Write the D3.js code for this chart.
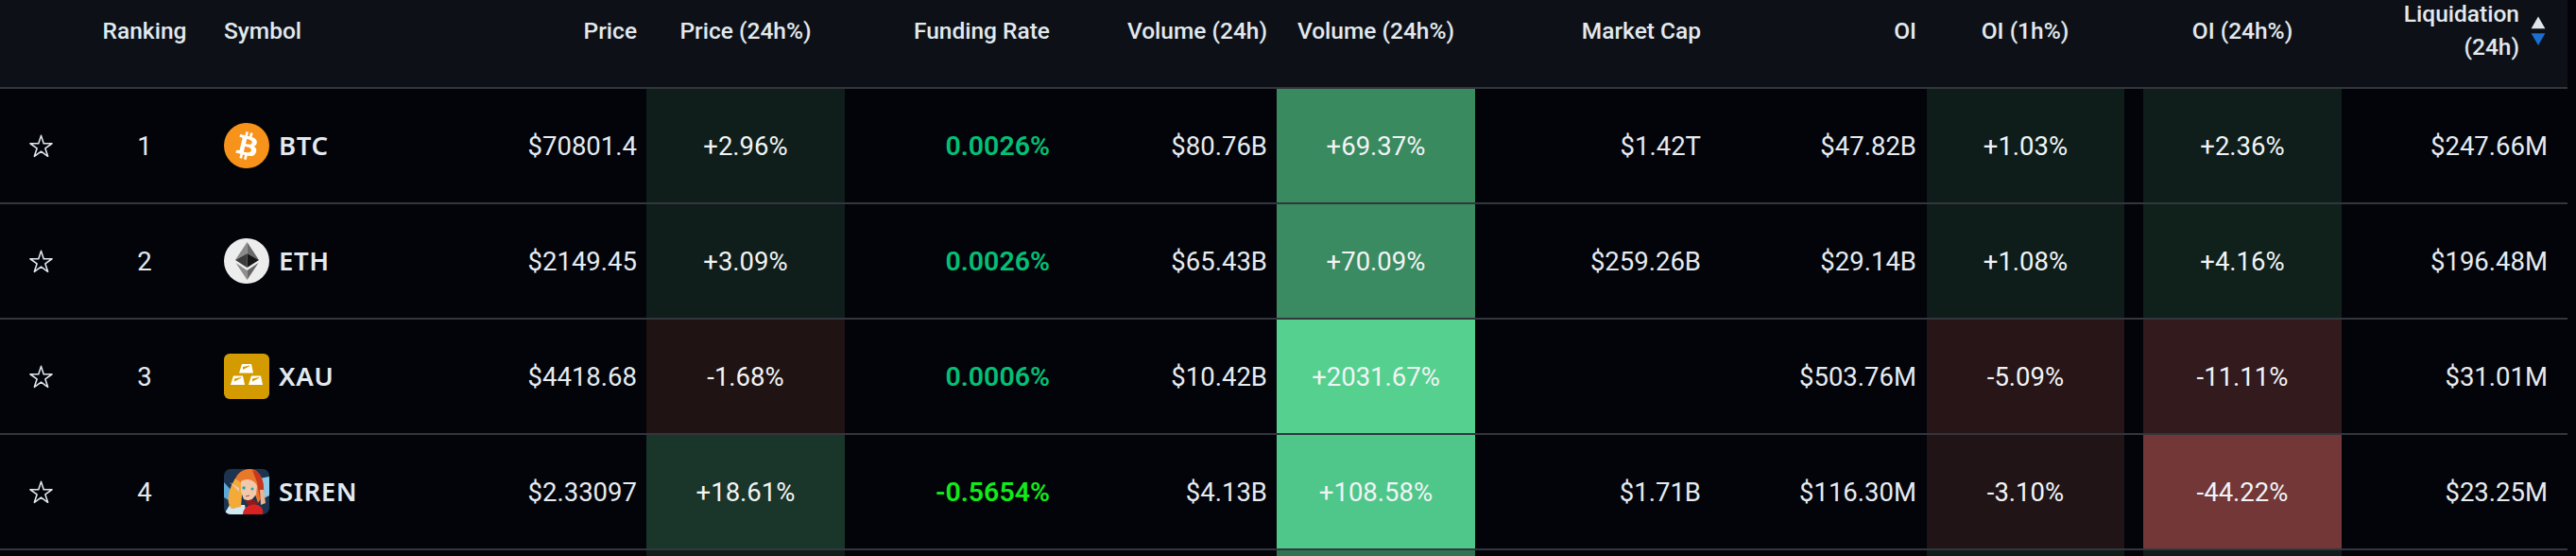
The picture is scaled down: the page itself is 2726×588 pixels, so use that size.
<!DOCTYPE html>
<html>
<head>
<meta charset="utf-8">
<script src="https://cdn.jsdelivr.net/npm/d3@7"></script>
<style>
  html, body { margin: 0; background: #02040a; overflow: hidden; }
  svg { display: block; }
  .head { font-family: Roboto, sans-serif; font-weight: 500; font-size: 24.5px; fill: #e2e9ef; }
  .val { font-family: Roboto, sans-serif; font-size: 27.5px; fill: #e6ebf0; }
  .sym { font-family: "Noto Sans", sans-serif; font-weight: 600; font-size: 27.5px; letter-spacing: 0.6px; fill: #e2e9ef; }
</style>
</head>
<body>
<svg id="chart"></svg>
<script>
// data
const ranking = ["1", "2", "3", "4"]
const symbols = ["BTC", "ETH", "XAU", "SIREN"]
const price = ["$70801.4", "$2149.45", "$4418.68", "$2.33097"]
const priceChange = ["+2.96%", "+3.09%", "-1.68%", "+18.61%"]
const fundingRate = ["0.0026%", "0.0026%", "0.0006%", "-0.5654%"]
const volume = ["$80.76B", "$65.43B", "$10.42B", "$4.13B"]
const volumeChange = ["+69.37%", "+70.09%", "+2031.67%", "+108.58%"]
const marketCap = ["$1.42T", "$259.26B", "", "$1.71B"]
const oi = ["$47.82B", "$29.14B", "$503.76M", "$116.30M"]
const oiChange1h = ["+1.03%", "+1.08%", "-5.09%", "-3.10%"]
const oiChange24h = ["+2.36%", "+4.16%", "-11.11%", "-44.22%"]
const liquidation = ["$247.66M", "$196.48M", "$31.01M", "$23.25M"]
// only the top edge of row 5 is in the picture, no text, so these are guessed from the fill
const row5Changes = [3, 50, 1, 3]

// constants
const width = 2726
const height = 588
const tableRight = 2717
const headerBottom = 92
const rowStep = 122
const lineH = 2

const svg = d3.select('svg#chart').attr('width', width).attr('height', height)

// rows
const y = d3.scaleBand().domain(d3.range(5)).range([headerBottom + lineH, headerBottom + lineH + rowStep * 5])
const rowH = y.bandwidth() - lineH
const baseline = i => y(i) + rowH / 2 + 10

// heat colour of a change cell
const heat = d3.scaleLinear()
  .domain([-44.22, -11.11, -5.09, -3.10, -1.68, 0, 3, 18.61, 50, 69.37, 108.58, 2031.67])
  .range(["#733738", "#331a1d", "#271518", "#211417", "#1f1314", "#0e1c19", "#0f1e1a", "#1a352a",
          "#2f7350", "#3a8a60", "#4fc78a", "#55d08e"])
  .clamp(true)

// funding rate text gets brighter the further it is from zero
const fundingColor = v => v < -0.1 ? "#12ea1a" : "#03c076"

// columns: anchor x, text anchor, band edges for the heat columns
const textCols = [
  { vals: ranking, x: 153, anchor: 'middle' },
  { vals: price, x: 674, anchor: 'end' },
  { vals: volume, x: 1341, anchor: 'end' },
  { vals: marketCap, x: 1800, anchor: 'end' },
  { vals: oi, x: 2028, anchor: 'end' },
  { vals: liquidation, x: 2696, anchor: 'end' },
]
const heatCols = [
  { vals: priceChange, x0: 684, x1: 894 },
  { vals: volumeChange, x0: 1351, x1: 1561 },
  { vals: oiChange1h, x0: 2039, x1: 2248 },
  { vals: oiChange24h, x0: 2268, x1: 2478 },
]
const headers = [
  { t: "Ranking", x: 153, anchor: 'middle' },
  { t: "Symbol", x: 237, anchor: 'start' },
  { t: "Price", x: 674, anchor: 'end' },
  { t: "Price (24h%)", x: 789, anchor: 'middle' },
  { t: "Funding Rate", x: 1111, anchor: 'end' },
  { t: "Volume (24h)", x: 1341, anchor: 'end' },
  { t: "Volume (24h%)", x: 1456, anchor: 'middle' },
  { t: "Market Cap", x: 1800, anchor: 'end' },
  { t: "OI", x: 2028, anchor: 'end' },
  { t: "OI (1h%)", x: 2143, anchor: 'middle' },
  { t: "OI (24h%)", x: 2373, anchor: 'middle' },
]

// header band
svg.append('rect').attr('width', tableRight).attr('height', headerBottom).attr('fill', '#0d1117')
svg.selectAll('text.head').data(headers).enter().append('text')
  .attr('class', 'head')
  .attr('x', d => d.x).attr('y', 41)
  .attr('text-anchor', d => d.anchor)
  .text(d => d.t)
svg.append('text').attr('class', 'head').attr('x', 2666).attr('y', 23).attr('text-anchor', 'end').text("Liquidation")
svg.append('text').attr('class', 'head').attr('x', 2666).attr('y', 58).attr('text-anchor', 'end').text("(24h)")

// sort arrows
const tri = d3.symbol().type(d3.symbolTriangle).size(95)
svg.append('path').attr('d', tri).attr('transform', 'translate(2686,26)').attr('fill', '#dfe6ec')
svg.append('path').attr('d', tri).attr('transform', 'translate(2686,39.5) rotate(180)').attr('fill', '#1a6fd0')

// heat cells
heatCols.forEach((col, c) => {
  svg.selectAll('rect.c' + c).data(col.vals.map(parseFloat).concat(row5Changes[c])).enter().append('rect')
    .attr('class', 'c' + c)
    .attr('x', col.x0).attr('width', col.x1 - col.x0)
    .attr('y', (d, i) => y(i)).attr('height', rowH)
    .attr('fill', d => heat(d))
  svg.selectAll('text.t' + c).data(col.vals).enter().append('text')
    .attr('class', 'val t' + c)
    .attr('x', (col.x0 + col.x1) / 2).attr('y', (d, i) => baseline(i))
    .attr('text-anchor', 'middle')
    .style('fill', '#f1f4f6')
    .text(d => d)
})

// row lines go over the cells
svg.selectAll('rect.line').data(d3.range(5)).enter().append('rect')
  .attr('class', 'line')
  .attr('x', 0).attr('width', tableRight).attr('height', lineH)
  .attr('y', i => headerBottom + rowStep * i)
  .attr('fill', '#33363d')

// plain text columns
textCols.forEach((col, c) => {
  svg.selectAll('text.p' + c).data(col.vals).enter().append('text')
    .attr('class', 'val p' + c)
    .attr('x', col.x).attr('y', (d, i) => baseline(i))
    .attr('text-anchor', col.anchor)
    .text(d => d)
})

// funding rate
svg.selectAll('text.fund').data(fundingRate).enter().append('text')
  .attr('class', 'val fund')
  .attr('x', 1111).attr('y', (d, i) => baseline(i))
  .attr('text-anchor', 'end')
  .style('font-weight', 600)
  .style('font-size', '28.5px')
  .style('fill', d => fundingColor(parseFloat(d)))
  .text(d => d)

// stars
const star = d3.symbol().type(d3.symbolStar).size(165)
svg.selectAll('path.star').data(ranking).enter().append('path')
  .attr('class', 'star')
  .attr('d', star)
  .attr('transform', (d, i) => 'translate(43.5,' + (y(i) + rowH / 2 + 1.5) + ')')
  .attr('fill', 'none').attr('stroke', '#dfe6ec').attr('stroke-width', 1.6).attr('stroke-linejoin', 'round')

// symbol names
svg.selectAll('text.sym').data(symbols).enter().append('text')
  .attr('class', 'sym')
  .attr('x', 295).attr('y', (d, i) => baseline(i))
  .text(d => d)

// icons, each drawn in a 48px box
const icon = i => svg.append('g').attr('transform', 'translate(237,' + (y(i) + rowH / 2 - 24) + ')')
const poly = (g, pts, fill) => g.append('polygon').attr('points', pts).attr('fill', fill)

// BTC
const btc = icon(0)
btc.append('circle').attr('cx', 24).attr('cy', 24).attr('r', 24).attr('fill', '#f7931a')
btc.append('path').attr('transform', 'scale(1.5)').attr('fill', '#fff')
  .attr('d', 'M23.189 14.02c.314-2.096-1.283-3.223-3.465-3.975l.708-2.84-1.728-.43-.69 2.765c-.454-.114-.92-.22-1.385-.326l.695-2.783L15.596 6l-.708 2.839c-.376-.086-.746-.17-1.104-.26l.002-.009-2.384-.595-.46 1.846s1.283.294 1.256.312c.7.175.826.638.805 1.006l-.806 3.235c.048.012.11.03.18.057l-.183-.045-1.13 4.532c-.086.212-.303.531-.793.41.018.025-1.256-.313-1.256-.313l-.858 1.978 2.25.561c.418.105.828.215 1.231.318l-.715 2.872 1.727.43.708-2.84c.472.127.93.245 1.378.357l-.706 2.828 1.728.43.715-2.866c2.948.558 5.164.333 6.097-2.333.752-2.146-.037-3.385-1.588-4.192 1.13-.26 1.98-1.003 2.207-2.538zm-3.95 5.538c-.533 2.147-4.148.986-5.32.695l.95-3.805c1.172.293 4.929.872 4.37 3.11zm.535-5.569c-.487 1.953-3.495.96-4.47.717l.86-3.45c.975.243 4.118.696 3.61 2.733z')

// ETH
const eth = icon(1)
eth.append('circle').attr('cx', 24).attr('cy', 24).attr('r', 24).attr('fill', '#ededed')
poly(eth, '24.5,4 12,23 24.5,16', '#8b8b8b')
poly(eth, '24.5,4 37,23 24.5,16', '#6a6a6a')
poly(eth, '12,23 24.5,16 24.5,31', '#3c3c3c')
poly(eth, '37,23 24.5,16 24.5,31', '#161616')
poly(eth, '12.5,26 24.5,34 24.5,44', '#8e8e8e')
poly(eth, '36.5,26 24.5,34 24.5,44', '#666666')

// XAU
const xau = icon(2)
xau.append('rect').attr('width', 48).attr('height', 48).attr('rx', 6).attr('fill', '#d49b00')
;[[16, 11], [7, 23.5], [26, 23.5]].forEach(p => {
  const bar = xau.append('g').attr('transform', 'translate(' + p + ')')
  poly(bar, '3,0 13,0 15,9.5 0,9.5', '#fff')
  poly(bar, '4,3 11,1.5 11.5,2 4,6', '#d49b00')
})

// SIREN, small portrait
const defs = svg.append('defs')
defs.append('clipPath').attr('id', 'sirenClip')
  .append('rect').attr('width', 48).attr('height', 48).attr('rx', 7)
const siren = icon(3).append('g').attr('clip-path', 'url(#sirenClip)')
siren.append('rect').attr('width', 48).attr('height', 48).attr('fill', '#1c3450')
poly(siren, '38,10 48,8 48,28 40,32', '#8ccbe8')
poly(siren, '0,14 9,24 10,36 0,30', '#5aa8d6')
siren.append('path').attr('d', 'M0,48 L6,38 L22,38 L24,48 Z').attr('fill', '#cfe9f4')
// hair
siren.append('path').attr('fill', '#e8792a')
  .attr('d', 'M10,32 C7,12 15,0 27,0 C38,0 43,12 42,26 L36,36 L30,18 L18,16 L18,38 L10,42 Z')
siren.append('path').attr('fill', '#f3aa38').attr('d', 'M12,10 C4,22 2,36 8,42 L18,40 L20,16 Z')
siren.append('path').attr('fill', '#c9361f').attr('d', 'M30,1 C39,3 43,12 42,26 L38,32 L35,14 Z')
// face
siren.append('path').attr('fill', '#f2c8aa').attr('d', 'M18,13 C24,9 32,11 35,18 L34,27 L28,34 L21,32 L18,24 Z')
poly(siren, '6,14 16,20 16,24', '#f2c8aa')
siren.append('circle').attr('cx', 21).attr('cy', 20).attr('r', 1.7).attr('fill', '#1fa7b0')
siren.append('circle').attr('cx', 30).attr('cy', 21).attr('r', 1.5).attr('fill', '#1fa7b0')
siren.append('path').attr('d', 'M23,29 L27,28').attr('stroke', '#b04a3a').attr('stroke-width', 1)
// dress
poly(siren, '22,34 30,32 37,36 28,40', '#8e1a1a')
siren.append('path').attr('fill', '#d92222').attr('d', 'M20,48 C20,40 29,36 36,38 C41,40 42,45 41,48 Z')
poly(siren, '38,22 42,22 44,36 39,38', '#eab492')
</script>
</body>
</html>
